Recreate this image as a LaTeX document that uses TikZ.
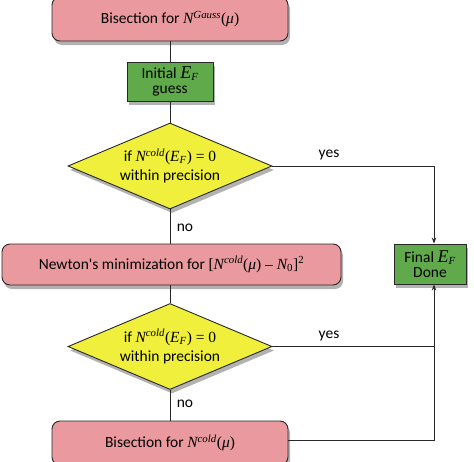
\documentclass[tikz,border=0pt]{standalone}
\usepackage{fontspec}
\setmainfont{Carlito}
\newfontfamily\tms{Liberation Serif}
\usetikzlibrary{shapes.geometric,shadows,arrows.meta}
\newcommand\mi[1]{{\tms\itshape #1}}
\newcommand\mr[1]{{\tms #1}}
\definecolor{pinkbox}{RGB}{234,154,158}
\definecolor{greenbox}{RGB}{96,170,76}
\definecolor{yellowbox}{RGB}{240,240,60}
\definecolor{edge}{RGB}{40,40,40}
\tikzset{
  shad/.style={drop shadow={shadow xshift=2pt,shadow yshift=-4pt,fill=black,opacity=.3}},
  pinkstep/.style={draw=edge,line width=0.9pt,fill=pinkbox,rounded corners=8pt,shad,inner sep=0pt,font=\fontsize{15.5}{19}\selectfont},
  greenstep/.style={draw=edge,line width=0.9pt,fill=greenbox,shad,inner sep=0pt,align=center,font=\fontsize{15.5}{15}\selectfont},
  decide/.style={diamond,draw=edge,line width=0.9pt,fill=yellowbox,shad,inner sep=0pt,minimum width=204pt,minimum height=86pt},
  dtext/.style={align=center,font=\fontsize{15.5}{19}\selectfont},
  conn/.style={draw=edge,line width=0.9pt},
  arr/.style={conn,-{Stealth[length=6pt,width=4.5pt]}},
  lab/.style={font=\fontsize{15.5}{19}\selectfont}
}
\begin{document}
\begin{tikzpicture}[x=1pt,y=-1pt]
\useasboundingbox (0,0) rectangle (474,461);
\fill[white] (0,0) rectangle (474,461);
\clip (0,0) rectangle (474,461);
\node[pinkstep,minimum width=236pt,minimum height=44pt] (bg) at (170,19) {Bisection for \mi{N}\textsuperscript{\mi{Gauss}}\mr{(}\mi{μ}\mr{)}};
\node[greenstep,minimum width=86pt,minimum height=39pt] (init) at (170,81.5) {Initial \mi{\fontsize{18}{15}\selectfont E}\textsubscript{\mi{F}}\\guess};
\node[decide] (d1) at (170,166) {};
\node[dtext] at (d1.center) {if \mi{N}\textsuperscript{\mi{cold}}\mr{(}\mi{E}\textsubscript{\mi{F}}\mr{) = 0}\\within precision};
\node[pinkstep,minimum width=339pt,minimum height=41pt] (newt) at (171.5,264.5) {Newton\textquotesingle s minimization for \mr{[}\mi{N}\textsuperscript{\mi{cold}}\mr{(}\mi{μ}\mr{) – }\mi{N}\textsubscript{\mr{0}}\mr{]}\textsuperscript{\mr{2}}};
\node[greenstep,minimum width=72pt,minimum height=40pt] (fin) at (430,264) {Final \mi{\fontsize{18}{15}\selectfont E}\textsubscript{\mi{F}}\\Done};
\node[decide] (d2) at (170,346.5) {};
\node[dtext] at (d2.center) {if \mi{N}\textsuperscript{\mi{cold}}\mr{(}\mi{E}\textsubscript{\mi{F}}\mr{) = 0}\\within precision};
\node[pinkstep,minimum width=236pt,minimum height=44pt] (bc) at (170,443) {Bisection for \mi{N}\textsuperscript{\mi{cold}}\mr{(}\mi{μ}\mr{)}};
\coordinate (r1) at (434,166);
\coordinate (r2) at (434,346.5);
\coordinate (r3) at (434,440);
\draw[conn] (bg.south) -- (init.north);
\draw[conn] (init.south) -- (d1.north);
\draw[conn] (d1.south) -- node[lab,right,xshift=3pt,pos=0.55] (no1) {no} (d1.south |- newt.north);
\draw[arr] (d1.east) -- node[lab,above,yshift=2pt,pos=0.35] (yes1) {yes} (r1) -- (fin.north -| r1);
\draw[conn] (d1.south |- newt.south) -- (d2.north);
\draw[conn] (d2.south) -- node[lab,right,xshift=3pt,pos=0.45] (no2) {no} (bc.north);
\draw[conn] (d2.east) -- node[lab,above,yshift=2pt,pos=0.35] (yes2) {yes} (r2);
\draw[arr] (bc.east |- r3) -- (r3) -- (fin.south -| r3);
\end{tikzpicture}
\end{document}
